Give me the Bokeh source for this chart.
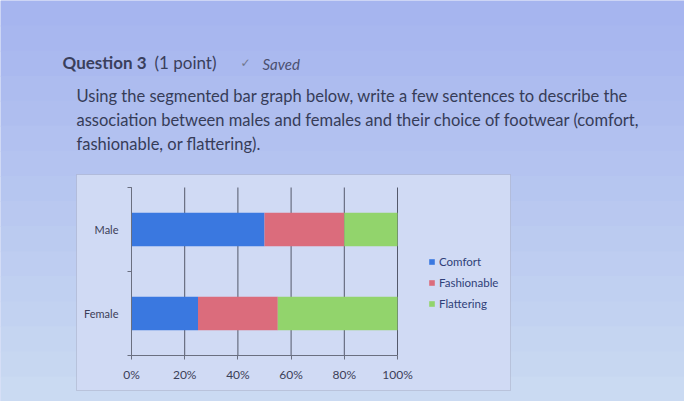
from bokeh.plotting import figure
from bokeh.models import (Label, Legend, LegendItem, BoxAnnotation, Range1d,
                          NumeralTickFormatter, FixedTicker, ColumnDataSource, LinearAxis)
from bokeh.embed import file_html
from bokeh.resources import INLINE

# ---- data ----
groups = ["Female", "Male"]
segments = ["Comfort", "Fashionable", "Flattering"]
comfort = [0.25, 0.50]
fashionable = [0.30, 0.30]
flattering = [0.45, 0.20]
x_ticks = [0, 0.2, 0.4, 0.6, 0.8, 1.0]
colors = ["#3a78e0", "#db6c7c", "#92d46c"]

title_bold = "Question 3"
title_rest = "(1 point)"
saved_text = "Saved"
question_lines = [
    "Using the segmented bar graph below, write a few sentences to describe the",
    "association between males and females and their choice of footwear (comfort,",
    "fashionable, or flattering).",
]

# ---- layout constants (canvas px, top-left origin) ----
W, H = 684, 401
FX0, FX1 = 131, 397      # chart frame left / right
FY0, FY1 = 187, 355      # chart frame top / bottom
n = len(groups)
xpx = (FX1 - FX0)
ypx = (FY1 - FY0) / n

ypos = [i + 0.5 for i in range(n)]
source = ColumnDataSource(dict(group=groups, y=ypos, Comfort=comfort,
                               Fashionable=fashionable, Flattering=flattering))

p = figure(width=W, height=H, x_range=Range1d(0, W), y_range=Range1d(H, 0),
           output_backend="svg", toolbar_location=None,
           x_axis_location=None, y_axis_location=None,
           min_border=0)
p.min_border_left = p.min_border_right = p.min_border_top = p.min_border_bottom = 0
p.extra_x_ranges = {"cx": Range1d(-FX0 / xpx, 1 + (W - FX1) / xpx)}
p.extra_y_ranges = {"cy": Range1d((FY1 - H) / ypx, FY1 / ypx)}
p.border_fill_color = "#b6c3ef"
p.background_fill_color = "#b6c3ef"
p.outline_line_color = None
p.grid.grid_line_color = None

# background gradient bands (styling)
top_c = (166, 181, 239)
bot_c = (202, 218, 242)
nb = 16
for i in range(nb):
    t = i / (nb - 1)
    c = tuple(int(top_c[k] + (bot_c[k] - top_c[k]) * t) for k in range(3))
    p.add_layout(BoxAnnotation(top=H * i / nb, bottom=H * (i + 1) / nb + 1,
                               fill_color="#%02x%02x%02x" % c, fill_alpha=1,
                               line_color=None, level="image"))

# chart box
p.add_layout(BoxAnnotation(left=76, right=510, top=174, bottom=390,
                           fill_color="#d0daf4", fill_alpha=1.0,
                           line_color="#8a90a6", line_width=1, level="image"))

# grid lines (at x ticks, over the category extent)
p.segment(x0=x_ticks, x1=x_ticks, y0=0, y1=n, x_range_name="cx", y_range_name="cy",
          line_color="#3e4252", line_alpha=0.85, line_width=1)

renderers = p.hbar_stack(segments, y="y", height=0.4, color=colors, line_color=None,
                         source=source, x_range_name="cx", y_range_name="cy")

# x axis
xa = LinearAxis(x_range_name="cx", y_range_name="cy", fixed_location=0, bounds=(0, 1))
xa.ticker = FixedTicker(ticks=x_ticks)
xa.formatter = NumeralTickFormatter(format="0%")
xa.axis_line_color = "#6a6f80"
xa.major_tick_line_color = "#6a6f80"
xa.major_tick_out = 4
xa.major_tick_in = 0
xa.minor_tick_line_color = None
xa.major_label_standoff = 7
xa.major_label_text_font = "Lato"
xa.major_label_text_font_size = "12px"
xa.major_label_text_color = "#3c4058"
p.add_layout(xa, "below")

# y axis: line + boundary ticks
ya = LinearAxis(x_range_name="cx", y_range_name="cy", fixed_location=0, bounds=(0, n))
ya.ticker = FixedTicker(ticks=list(range(n + 1)))
ya.major_label_text_alpha = 0
ya.axis_line_color = "#6a6f80"
ya.major_tick_line_color = "#6a6f80"
ya.major_tick_out = 4
ya.major_tick_in = 0
ya.minor_tick_line_color = None
p.add_layout(ya, "left")

# y axis: category labels
yl = LinearAxis(x_range_name="cx", y_range_name="cy", fixed_location=0, bounds=(0, n))
yl.ticker = FixedTicker(ticks=ypos)
yl.major_label_overrides = {v: g for v, g in zip(ypos, groups)}
yl.axis_line_color = None
yl.major_tick_line_color = None
yl.minor_tick_line_color = None
yl.major_label_standoff = 7
yl.major_label_text_font = "Lato"
yl.major_label_text_font_size = "11px"
yl.major_label_text_color = "#3c4058"
p.add_layout(yl, "left")

legend = Legend(items=[LegendItem(label=s, renderers=[r]) for s, r in zip(segments, renderers)],
                location=(428, 91), orientation="vertical",
                background_fill_alpha=0, border_line_color=None,
                padding=0, margin=0, spacing=8, label_height=10,
                glyph_width=7, glyph_height=7, label_standoff=4,
                label_text_font="Lato", label_text_font_size="11.5px",
                label_text_color="#2f3f78")
p.add_layout(legend, "center")


def cx(xr):
    return xr - 8


def cy(yr):
    return yr - 8


p.add_layout(Label(x=cx(70), y=cy(70), text=title_bold, text_font="Lato",
                   text_font_style="bold", text_font_size="17px",
                   text_color="#3a3f5c", text_baseline="middle"))
p.add_layout(Label(x=cx(162), y=cy(70), text=title_rest, text_font="Lato",
                   text_font_size="17px", text_color="#3a3f5c", text_baseline="middle"))
p.add_layout(Label(x=cx(248), y=cy(70), text="\u2713", text_font="DejaVu Sans",
                   text_font_size="12px", text_color="#70768e", text_baseline="middle"))
p.add_layout(Label(x=cx(270), y=cy(71), text=saved_text, text_font="Lato",
                   text_font_style="italic", text_font_size="15px",
                   text_color="#4a5070", text_baseline="middle"))
for i, line in enumerate(question_lines):
    p.add_layout(Label(x=cx(84), y=cy(103 + 24 * i), text=line, text_font="Lato",
                       text_font_size="16.5px", text_color="#363c58", text_baseline="middle"))

open("out.html", "w").write(file_html(p, INLINE))
